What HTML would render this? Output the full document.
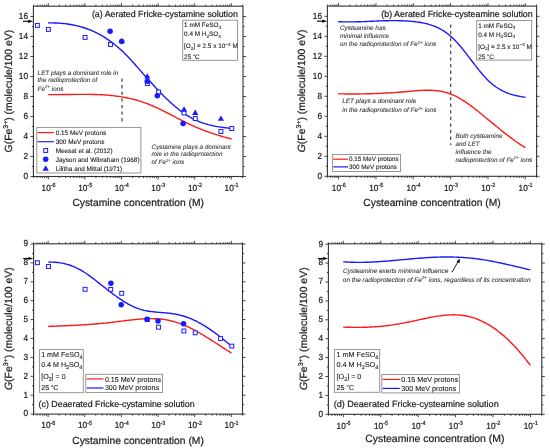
<!DOCTYPE html><html><head><meta charset="utf-8"><style>html,body{margin:0;padding:0;background:#fff;}svg{display:block;filter:blur(0.3px);}</style></head><body><svg xmlns="http://www.w3.org/2000/svg" width="550" height="448" viewBox="0 0 550 448" font-family='"Liberation Sans", sans-serif'>
<style>text{stroke:currentColor;stroke-width:0.2px;paint-order:stroke;text-rendering:geometricPrecision;} text.a{stroke-width:0.08px;} text.s{stroke-width:0.1px;}</style>
<rect width="550" height="448" fill="#fff"/>
<path d="M33.74,176.5v1.6M33.74,6.2v-1.6M37.28,176.5v1.6M37.28,6.2v-1.6M40.18,176.5v1.6M40.18,6.2v-1.6M42.63,176.5v1.6M42.63,6.2v-1.6M44.75,176.5v1.6M44.75,6.2v-1.6M46.63,176.5v1.6M46.63,6.2v-1.6M48.3,176.5v3M48.3,6.2v-3M59.32,176.5v1.6M59.32,6.2v-1.6M65.76,176.5v1.6M65.76,6.2v-1.6M70.34,176.5v1.6M70.34,6.2v-1.6M73.88,176.5v1.6M73.88,6.2v-1.6M76.78,176.5v1.6M76.78,6.2v-1.6M79.23,176.5v1.6M79.23,6.2v-1.6M81.35,176.5v1.6M81.35,6.2v-1.6M83.23,176.5v1.6M83.23,6.2v-1.6M84.9,176.5v3M84.9,6.2v-3M95.92,176.5v1.6M95.92,6.2v-1.6M102.36,176.5v1.6M102.36,6.2v-1.6M106.94,176.5v1.6M106.94,6.2v-1.6M110.48,176.5v1.6M110.48,6.2v-1.6M113.38,176.5v1.6M113.38,6.2v-1.6M115.83,176.5v1.6M115.83,6.2v-1.6M117.95,176.5v1.6M117.95,6.2v-1.6M119.83,176.5v1.6M119.83,6.2v-1.6M121.5,176.5v3M121.5,6.2v-3M132.52,176.5v1.6M132.52,6.2v-1.6M138.96,176.5v1.6M138.96,6.2v-1.6M143.54,176.5v1.6M143.54,6.2v-1.6M147.08,176.5v1.6M147.08,6.2v-1.6M149.98,176.5v1.6M149.98,6.2v-1.6M152.43,176.5v1.6M152.43,6.2v-1.6M154.55,176.5v1.6M154.55,6.2v-1.6M156.43,176.5v1.6M156.43,6.2v-1.6M158.1,176.5v3M158.1,6.2v-3M169.12,176.5v1.6M169.12,6.2v-1.6M175.56,176.5v1.6M175.56,6.2v-1.6M180.14,176.5v1.6M180.14,6.2v-1.6M183.68,176.5v1.6M183.68,6.2v-1.6M186.58,176.5v1.6M186.58,6.2v-1.6M189.03,176.5v1.6M189.03,6.2v-1.6M191.15,176.5v1.6M191.15,6.2v-1.6M193.03,176.5v1.6M193.03,6.2v-1.6M194.7,176.5v3M194.7,6.2v-3M205.72,176.5v1.6M205.72,6.2v-1.6M212.16,176.5v1.6M212.16,6.2v-1.6M216.74,176.5v1.6M216.74,6.2v-1.6M220.28,176.5v1.6M220.28,6.2v-1.6M223.18,176.5v1.6M223.18,6.2v-1.6M225.63,176.5v1.6M225.63,6.2v-1.6M227.75,176.5v1.6M227.75,6.2v-1.6M229.63,176.5v1.6M229.63,6.2v-1.6M231.3,176.5v3M231.3,6.2v-3M242.32,176.5v1.6M242.32,6.2v-1.6M33.4,176.5h-3M243,176.5h3M33.4,166.5h-1.6M243,166.5h1.6M33.4,156.5h-3M243,156.5h3M33.4,146.5h-1.6M243,146.5h1.6M33.4,136.5h-3M243,136.5h3M33.4,126.5h-1.6M243,126.5h1.6M33.4,116.5h-3M243,116.5h3M33.4,106.5h-1.6M243,106.5h1.6M33.4,96.5h-3M243,96.5h3M33.4,86.5h-1.6M243,86.5h1.6M33.4,76.5h-3M243,76.5h3M33.4,66.5h-1.6M243,66.5h1.6M33.4,56.5h-3M243,56.5h3M33.4,46.5h-1.6M243,46.5h1.6M33.4,36.5h-3M243,36.5h3M33.4,26.5h-1.6M243,26.5h1.6M33.4,16.5h-3M243,16.5h3" stroke="#333" stroke-width="0.9" fill="none"/>
<rect x="33.4" y="6.2" width="209.6" height="170.3" stroke="#333" stroke-width="1.1" fill="none"/>
<text transform="translate(28,178.8) scale(0.93,1)" font-size="8.9" text-anchor="end" fill="#1a1a1a" color="#1a1a1a">0</text>
<text transform="translate(28,158.8) scale(0.93,1)" font-size="8.9" text-anchor="end" fill="#1a1a1a" color="#1a1a1a">2</text>
<text transform="translate(28,138.8) scale(0.93,1)" font-size="8.9" text-anchor="end" fill="#1a1a1a" color="#1a1a1a">4</text>
<text transform="translate(28,118.8) scale(0.93,1)" font-size="8.9" text-anchor="end" fill="#1a1a1a" color="#1a1a1a">6</text>
<text transform="translate(28,98.8) scale(0.93,1)" font-size="8.9" text-anchor="end" fill="#1a1a1a" color="#1a1a1a">8</text>
<text transform="translate(28,78.8) scale(0.93,1)" font-size="8.9" text-anchor="end" fill="#1a1a1a" color="#1a1a1a">10</text>
<text transform="translate(28,58.8) scale(0.93,1)" font-size="8.9" text-anchor="end" fill="#1a1a1a" color="#1a1a1a">12</text>
<text transform="translate(28,38.8) scale(0.93,1)" font-size="8.9" text-anchor="end" fill="#1a1a1a" color="#1a1a1a">14</text>
<text transform="translate(28,18.8) scale(0.93,1)" font-size="8.9" text-anchor="end" fill="#1a1a1a" color="#1a1a1a">16</text>
<text transform="translate(48.6,190.7) scale(0.93,1)" font-size="8.9" text-anchor="middle" fill="#1a1a1a" color="#1a1a1a">10<tspan font-size="5.93" dy="-3.8">-6</tspan></text>
<text transform="translate(85.2,190.7) scale(0.93,1)" font-size="8.9" text-anchor="middle" fill="#1a1a1a" color="#1a1a1a">10<tspan font-size="5.93" dy="-3.8">-5</tspan></text>
<text transform="translate(121.8,190.7) scale(0.93,1)" font-size="8.9" text-anchor="middle" fill="#1a1a1a" color="#1a1a1a">10<tspan font-size="5.93" dy="-3.8">-4</tspan></text>
<text transform="translate(158.4,190.7) scale(0.93,1)" font-size="8.9" text-anchor="middle" fill="#1a1a1a" color="#1a1a1a">10<tspan font-size="5.93" dy="-3.8">-3</tspan></text>
<text transform="translate(195,190.7) scale(0.93,1)" font-size="8.9" text-anchor="middle" fill="#1a1a1a" color="#1a1a1a">10<tspan font-size="5.93" dy="-3.8">-2</tspan></text>
<text transform="translate(231.6,190.7) scale(0.93,1)" font-size="8.9" text-anchor="middle" fill="#1a1a1a" color="#1a1a1a">10<tspan font-size="5.93" dy="-3.8">-1</tspan></text>
<text x="138.2" y="205.7" font-size="10.3" text-anchor="middle" fill="#1a1a1a" color="#1a1a1a">Cystamine concentration (M)</text>
<text transform="translate(11.6,91.05) rotate(-90)" font-size="10.45" text-anchor="middle" fill="#1a1a1a" color="#1a1a1a">G(Fe<tspan font-size="6.90" dy="-4">3+</tspan><tspan dy="4">) (molecule/100 eV)</tspan></text>
<path d="M22.9,21.3H29.4" stroke="#000" stroke-width="1.1"/>
<path d="M28.2,19.7L33.1,21.3L28.2,22.9Z" fill="#000"/>
<path d="M327.36,176.3v1.6M327.36,6.1v-1.6M330.32,176.3v1.6M330.32,6.1v-1.6M332.82,176.3v1.6M332.82,6.1v-1.6M334.98,176.3v1.6M334.98,6.1v-1.6M336.89,176.3v1.6M336.89,6.1v-1.6M338.6,176.3v3M338.6,6.1v-3M349.84,176.3v1.6M349.84,6.1v-1.6M356.42,176.3v1.6M356.42,6.1v-1.6M361.08,176.3v1.6M361.08,6.1v-1.6M364.7,176.3v1.6M364.7,6.1v-1.6M367.66,176.3v1.6M367.66,6.1v-1.6M370.16,176.3v1.6M370.16,6.1v-1.6M372.32,176.3v1.6M372.32,6.1v-1.6M374.23,176.3v1.6M374.23,6.1v-1.6M375.94,176.3v3M375.94,6.1v-3M387.18,176.3v1.6M387.18,6.1v-1.6M393.76,176.3v1.6M393.76,6.1v-1.6M398.42,176.3v1.6M398.42,6.1v-1.6M402.04,176.3v1.6M402.04,6.1v-1.6M405,176.3v1.6M405,6.1v-1.6M407.5,176.3v1.6M407.5,6.1v-1.6M409.66,176.3v1.6M409.66,6.1v-1.6M411.57,176.3v1.6M411.57,6.1v-1.6M413.28,176.3v3M413.28,6.1v-3M424.52,176.3v1.6M424.52,6.1v-1.6M431.1,176.3v1.6M431.1,6.1v-1.6M435.76,176.3v1.6M435.76,6.1v-1.6M439.38,176.3v1.6M439.38,6.1v-1.6M442.34,176.3v1.6M442.34,6.1v-1.6M444.84,176.3v1.6M444.84,6.1v-1.6M447,176.3v1.6M447,6.1v-1.6M448.91,176.3v1.6M448.91,6.1v-1.6M450.62,176.3v3M450.62,6.1v-3M461.86,176.3v1.6M461.86,6.1v-1.6M468.44,176.3v1.6M468.44,6.1v-1.6M473.1,176.3v1.6M473.1,6.1v-1.6M476.72,176.3v1.6M476.72,6.1v-1.6M479.68,176.3v1.6M479.68,6.1v-1.6M482.18,176.3v1.6M482.18,6.1v-1.6M484.34,176.3v1.6M484.34,6.1v-1.6M486.25,176.3v1.6M486.25,6.1v-1.6M487.96,176.3v3M487.96,6.1v-3M499.2,176.3v1.6M499.2,6.1v-1.6M505.78,176.3v1.6M505.78,6.1v-1.6M510.44,176.3v1.6M510.44,6.1v-1.6M514.06,176.3v1.6M514.06,6.1v-1.6M517.02,176.3v1.6M517.02,6.1v-1.6M519.52,176.3v1.6M519.52,6.1v-1.6M521.68,176.3v1.6M521.68,6.1v-1.6M523.59,176.3v1.6M523.59,6.1v-1.6M525.3,176.3v3M525.3,6.1v-3M536.54,176.3v1.6M536.54,6.1v-1.6M327.4,176.3h-3M536.6,176.3h3M327.4,166.3h-1.6M536.6,166.3h1.6M327.4,156.3h-3M536.6,156.3h3M327.4,146.3h-1.6M536.6,146.3h1.6M327.4,136.3h-3M536.6,136.3h3M327.4,126.3h-1.6M536.6,126.3h1.6M327.4,116.3h-3M536.6,116.3h3M327.4,106.3h-1.6M536.6,106.3h1.6M327.4,96.3h-3M536.6,96.3h3M327.4,86.3h-1.6M536.6,86.3h1.6M327.4,76.3h-3M536.6,76.3h3M327.4,66.3h-1.6M536.6,66.3h1.6M327.4,56.3h-3M536.6,56.3h3M327.4,46.3h-1.6M536.6,46.3h1.6M327.4,36.3h-3M536.6,36.3h3M327.4,26.3h-1.6M536.6,26.3h1.6M327.4,16.3h-3M536.6,16.3h3" stroke="#333" stroke-width="0.9" fill="none"/>
<rect x="327.4" y="6.1" width="209.2" height="170.2" stroke="#333" stroke-width="1.1" fill="none"/>
<text transform="translate(322,178.6) scale(0.93,1)" font-size="8.9" text-anchor="end" fill="#1a1a1a" color="#1a1a1a">0</text>
<text transform="translate(322,158.6) scale(0.93,1)" font-size="8.9" text-anchor="end" fill="#1a1a1a" color="#1a1a1a">2</text>
<text transform="translate(322,138.6) scale(0.93,1)" font-size="8.9" text-anchor="end" fill="#1a1a1a" color="#1a1a1a">4</text>
<text transform="translate(322,118.6) scale(0.93,1)" font-size="8.9" text-anchor="end" fill="#1a1a1a" color="#1a1a1a">6</text>
<text transform="translate(322,98.6) scale(0.93,1)" font-size="8.9" text-anchor="end" fill="#1a1a1a" color="#1a1a1a">8</text>
<text transform="translate(322,78.6) scale(0.93,1)" font-size="8.9" text-anchor="end" fill="#1a1a1a" color="#1a1a1a">10</text>
<text transform="translate(322,58.6) scale(0.93,1)" font-size="8.9" text-anchor="end" fill="#1a1a1a" color="#1a1a1a">12</text>
<text transform="translate(322,38.6) scale(0.93,1)" font-size="8.9" text-anchor="end" fill="#1a1a1a" color="#1a1a1a">14</text>
<text transform="translate(322,18.6) scale(0.93,1)" font-size="8.9" text-anchor="end" fill="#1a1a1a" color="#1a1a1a">16</text>
<text transform="translate(338.9,190.5) scale(0.93,1)" font-size="8.9" text-anchor="middle" fill="#1a1a1a" color="#1a1a1a">10<tspan font-size="5.93" dy="-3.8">-6</tspan></text>
<text transform="translate(376.24,190.5) scale(0.93,1)" font-size="8.9" text-anchor="middle" fill="#1a1a1a" color="#1a1a1a">10<tspan font-size="5.93" dy="-3.8">-5</tspan></text>
<text transform="translate(413.58,190.5) scale(0.93,1)" font-size="8.9" text-anchor="middle" fill="#1a1a1a" color="#1a1a1a">10<tspan font-size="5.93" dy="-3.8">-4</tspan></text>
<text transform="translate(450.92,190.5) scale(0.93,1)" font-size="8.9" text-anchor="middle" fill="#1a1a1a" color="#1a1a1a">10<tspan font-size="5.93" dy="-3.8">-3</tspan></text>
<text transform="translate(488.26,190.5) scale(0.93,1)" font-size="8.9" text-anchor="middle" fill="#1a1a1a" color="#1a1a1a">10<tspan font-size="5.93" dy="-3.8">-2</tspan></text>
<text transform="translate(525.6,190.5) scale(0.93,1)" font-size="8.9" text-anchor="middle" fill="#1a1a1a" color="#1a1a1a">10<tspan font-size="5.93" dy="-3.8">-1</tspan></text>
<text x="432" y="205.7" font-size="10.3" text-anchor="middle" fill="#1a1a1a" color="#1a1a1a">Cysteamine concentration (M)</text>
<text transform="translate(305,90.9) rotate(-90)" font-size="10.45" text-anchor="middle" fill="#1a1a1a" color="#1a1a1a"><tspan font-style="italic">G</tspan>(Fe<tspan font-size="6.90" dy="-4">3+</tspan><tspan dy="4">) (molecule/100 eV)</tspan></text>
<path d="M316.9,21.2H323.4" stroke="#000" stroke-width="1.1"/>
<path d="M322.2,19.6L327.1,21.2L322.2,22.8Z" fill="#000"/>
<path d="M33.52,414.1v1.6M33.52,243.8v-1.6M37.07,414.1v1.6M37.07,243.8v-1.6M39.97,414.1v1.6M39.97,243.8v-1.6M42.42,414.1v1.6M42.42,243.8v-1.6M44.55,414.1v1.6M44.55,243.8v-1.6M46.42,414.1v1.6M46.42,243.8v-1.6M48.1,414.1v3M48.1,243.8v-3M59.13,414.1v1.6M59.13,243.8v-1.6M65.59,414.1v1.6M65.59,243.8v-1.6M70.17,414.1v1.6M70.17,243.8v-1.6M73.72,414.1v1.6M73.72,243.8v-1.6M76.62,414.1v1.6M76.62,243.8v-1.6M79.07,414.1v1.6M79.07,243.8v-1.6M81.2,414.1v1.6M81.2,243.8v-1.6M83.07,414.1v1.6M83.07,243.8v-1.6M84.75,414.1v3M84.75,243.8v-3M95.78,414.1v1.6M95.78,243.8v-1.6M102.24,414.1v1.6M102.24,243.8v-1.6M106.82,414.1v1.6M106.82,243.8v-1.6M110.37,414.1v1.6M110.37,243.8v-1.6M113.27,414.1v1.6M113.27,243.8v-1.6M115.72,414.1v1.6M115.72,243.8v-1.6M117.85,414.1v1.6M117.85,243.8v-1.6M119.72,414.1v1.6M119.72,243.8v-1.6M121.4,414.1v3M121.4,243.8v-3M132.43,414.1v1.6M132.43,243.8v-1.6M138.89,414.1v1.6M138.89,243.8v-1.6M143.47,414.1v1.6M143.47,243.8v-1.6M147.02,414.1v1.6M147.02,243.8v-1.6M149.92,414.1v1.6M149.92,243.8v-1.6M152.37,414.1v1.6M152.37,243.8v-1.6M154.5,414.1v1.6M154.5,243.8v-1.6M156.37,414.1v1.6M156.37,243.8v-1.6M158.05,414.1v3M158.05,243.8v-3M169.08,414.1v1.6M169.08,243.8v-1.6M175.54,414.1v1.6M175.54,243.8v-1.6M180.12,414.1v1.6M180.12,243.8v-1.6M183.67,414.1v1.6M183.67,243.8v-1.6M186.57,414.1v1.6M186.57,243.8v-1.6M189.02,414.1v1.6M189.02,243.8v-1.6M191.15,414.1v1.6M191.15,243.8v-1.6M193.02,414.1v1.6M193.02,243.8v-1.6M194.7,414.1v3M194.7,243.8v-3M205.73,414.1v1.6M205.73,243.8v-1.6M212.19,414.1v1.6M212.19,243.8v-1.6M216.77,414.1v1.6M216.77,243.8v-1.6M220.32,414.1v1.6M220.32,243.8v-1.6M223.22,414.1v1.6M223.22,243.8v-1.6M225.67,414.1v1.6M225.67,243.8v-1.6M227.8,414.1v1.6M227.8,243.8v-1.6M229.67,414.1v1.6M229.67,243.8v-1.6M231.35,414.1v3M231.35,243.8v-3M242.38,414.1v1.6M242.38,243.8v-1.6M33.6,414.1h-3M242.5,414.1h3M33.6,404.65h-1.6M242.5,404.65h1.6M33.6,395.2h-3M242.5,395.2h3M33.6,385.75h-1.6M242.5,385.75h1.6M33.6,376.3h-3M242.5,376.3h3M33.6,366.85h-1.6M242.5,366.85h1.6M33.6,357.4h-3M242.5,357.4h3M33.6,347.95h-1.6M242.5,347.95h1.6M33.6,338.5h-3M242.5,338.5h3M33.6,329.05h-1.6M242.5,329.05h1.6M33.6,319.6h-3M242.5,319.6h3M33.6,310.15h-1.6M242.5,310.15h1.6M33.6,300.7h-3M242.5,300.7h3M33.6,291.25h-1.6M242.5,291.25h1.6M33.6,281.8h-3M242.5,281.8h3M33.6,272.35h-1.6M242.5,272.35h1.6M33.6,262.9h-3M242.5,262.9h3M33.6,253.45h-1.6M242.5,253.45h1.6M33.6,244h-3M242.5,244h3" stroke="#333" stroke-width="0.9" fill="none"/>
<rect x="33.6" y="243.8" width="208.9" height="170.3" stroke="#333" stroke-width="1.1" fill="none"/>
<text transform="translate(28.2,416.4) scale(0.93,1)" font-size="8.9" text-anchor="end" fill="#1a1a1a" color="#1a1a1a">0</text>
<text transform="translate(28.2,397.5) scale(0.93,1)" font-size="8.9" text-anchor="end" fill="#1a1a1a" color="#1a1a1a">1</text>
<text transform="translate(28.2,378.6) scale(0.93,1)" font-size="8.9" text-anchor="end" fill="#1a1a1a" color="#1a1a1a">2</text>
<text transform="translate(28.2,359.7) scale(0.93,1)" font-size="8.9" text-anchor="end" fill="#1a1a1a" color="#1a1a1a">3</text>
<text transform="translate(28.2,340.8) scale(0.93,1)" font-size="8.9" text-anchor="end" fill="#1a1a1a" color="#1a1a1a">4</text>
<text transform="translate(28.2,321.9) scale(0.93,1)" font-size="8.9" text-anchor="end" fill="#1a1a1a" color="#1a1a1a">5</text>
<text transform="translate(28.2,303) scale(0.93,1)" font-size="8.9" text-anchor="end" fill="#1a1a1a" color="#1a1a1a">6</text>
<text transform="translate(28.2,284.1) scale(0.93,1)" font-size="8.9" text-anchor="end" fill="#1a1a1a" color="#1a1a1a">7</text>
<text transform="translate(28.2,265.2) scale(0.93,1)" font-size="8.9" text-anchor="end" fill="#1a1a1a" color="#1a1a1a">8</text>
<text transform="translate(28.2,246.3) scale(0.93,1)" font-size="8.9" text-anchor="end" fill="#1a1a1a" color="#1a1a1a">9</text>
<text transform="translate(48.4,428.3) scale(0.93,1)" font-size="8.9" text-anchor="middle" fill="#1a1a1a" color="#1a1a1a">10<tspan font-size="5.93" dy="-3.8">-6</tspan></text>
<text transform="translate(85.05,428.3) scale(0.93,1)" font-size="8.9" text-anchor="middle" fill="#1a1a1a" color="#1a1a1a">10<tspan font-size="5.93" dy="-3.8">-5</tspan></text>
<text transform="translate(121.7,428.3) scale(0.93,1)" font-size="8.9" text-anchor="middle" fill="#1a1a1a" color="#1a1a1a">10<tspan font-size="5.93" dy="-3.8">-4</tspan></text>
<text transform="translate(158.35,428.3) scale(0.93,1)" font-size="8.9" text-anchor="middle" fill="#1a1a1a" color="#1a1a1a">10<tspan font-size="5.93" dy="-3.8">-3</tspan></text>
<text transform="translate(195,428.3) scale(0.93,1)" font-size="8.9" text-anchor="middle" fill="#1a1a1a" color="#1a1a1a">10<tspan font-size="5.93" dy="-3.8">-2</tspan></text>
<text transform="translate(231.65,428.3) scale(0.93,1)" font-size="8.9" text-anchor="middle" fill="#1a1a1a" color="#1a1a1a">10<tspan font-size="5.93" dy="-3.8">-1</tspan></text>
<text x="138.05" y="443.5" font-size="10.3" text-anchor="middle" fill="#1a1a1a" color="#1a1a1a">Cystamine concentration (M)</text>
<text transform="translate(11.6,328.65) rotate(-90)" font-size="10.45" text-anchor="middle" fill="#1a1a1a" color="#1a1a1a"><tspan font-style="italic">G</tspan>(Fe<tspan font-size="6.90" dy="-4">3+</tspan><tspan dy="4">) (molecule/100 eV)</tspan></text>
<path d="M23.1,258.5H29.6" stroke="#000" stroke-width="1.1"/>
<path d="M28.4,256.9L33.3,258.5L28.4,260.1Z" fill="#000"/>
<path d="M328.41,414.3v1.6M328.41,243.8v-1.6M332.03,414.3v1.6M332.03,243.8v-1.6M335,414.3v1.6M335,243.8v-1.6M337.5,414.3v1.6M337.5,243.8v-1.6M339.67,414.3v1.6M339.67,243.8v-1.6M341.59,414.3v1.6M341.59,243.8v-1.6M343.3,414.3v3M343.3,243.8v-3M354.57,414.3v1.6M354.57,243.8v-1.6M361.16,414.3v1.6M361.16,243.8v-1.6M365.84,414.3v1.6M365.84,243.8v-1.6M369.46,414.3v1.6M369.46,243.8v-1.6M372.43,414.3v1.6M372.43,243.8v-1.6M374.93,414.3v1.6M374.93,243.8v-1.6M377.1,414.3v1.6M377.1,243.8v-1.6M379.02,414.3v1.6M379.02,243.8v-1.6M380.73,414.3v3M380.73,243.8v-3M392,414.3v1.6M392,243.8v-1.6M398.59,414.3v1.6M398.59,243.8v-1.6M403.27,414.3v1.6M403.27,243.8v-1.6M406.89,414.3v1.6M406.89,243.8v-1.6M409.86,414.3v1.6M409.86,243.8v-1.6M412.36,414.3v1.6M412.36,243.8v-1.6M414.53,414.3v1.6M414.53,243.8v-1.6M416.45,414.3v1.6M416.45,243.8v-1.6M418.16,414.3v3M418.16,243.8v-3M429.43,414.3v1.6M429.43,243.8v-1.6M436.02,414.3v1.6M436.02,243.8v-1.6M440.7,414.3v1.6M440.7,243.8v-1.6M444.32,414.3v1.6M444.32,243.8v-1.6M447.29,414.3v1.6M447.29,243.8v-1.6M449.79,414.3v1.6M449.79,243.8v-1.6M451.96,414.3v1.6M451.96,243.8v-1.6M453.88,414.3v1.6M453.88,243.8v-1.6M455.59,414.3v3M455.59,243.8v-3M466.86,414.3v1.6M466.86,243.8v-1.6M473.45,414.3v1.6M473.45,243.8v-1.6M478.13,414.3v1.6M478.13,243.8v-1.6M481.75,414.3v1.6M481.75,243.8v-1.6M484.72,414.3v1.6M484.72,243.8v-1.6M487.22,414.3v1.6M487.22,243.8v-1.6M489.39,414.3v1.6M489.39,243.8v-1.6M491.31,414.3v1.6M491.31,243.8v-1.6M493.02,414.3v3M493.02,243.8v-3M504.29,414.3v1.6M504.29,243.8v-1.6M510.88,414.3v1.6M510.88,243.8v-1.6M515.56,414.3v1.6M515.56,243.8v-1.6M519.18,414.3v1.6M519.18,243.8v-1.6M522.15,414.3v1.6M522.15,243.8v-1.6M524.65,414.3v1.6M524.65,243.8v-1.6M526.82,414.3v1.6M526.82,243.8v-1.6M528.74,414.3v1.6M528.74,243.8v-1.6M530.45,414.3v3M530.45,243.8v-3M541.72,414.3v1.6M541.72,243.8v-1.6M328.4,414.3h-3M541.8,414.3h3M328.4,404.85h-1.6M541.8,404.85h1.6M328.4,395.4h-3M541.8,395.4h3M328.4,385.95h-1.6M541.8,385.95h1.6M328.4,376.5h-3M541.8,376.5h3M328.4,367.05h-1.6M541.8,367.05h1.6M328.4,357.6h-3M541.8,357.6h3M328.4,348.15h-1.6M541.8,348.15h1.6M328.4,338.7h-3M541.8,338.7h3M328.4,329.25h-1.6M541.8,329.25h1.6M328.4,319.8h-3M541.8,319.8h3M328.4,310.35h-1.6M541.8,310.35h1.6M328.4,300.9h-3M541.8,300.9h3M328.4,291.45h-1.6M541.8,291.45h1.6M328.4,282h-3M541.8,282h3M328.4,272.55h-1.6M541.8,272.55h1.6M328.4,263.1h-3M541.8,263.1h3M328.4,253.65h-1.6M541.8,253.65h1.6M328.4,244.2h-3M541.8,244.2h3" stroke="#333" stroke-width="0.9" fill="none"/>
<rect x="328.4" y="243.8" width="213.4" height="170.5" stroke="#333" stroke-width="1.1" fill="none"/>
<text transform="translate(323,416.6) scale(0.93,1)" font-size="8.9" text-anchor="end" fill="#1a1a1a" color="#1a1a1a">0</text>
<text transform="translate(323,397.7) scale(0.93,1)" font-size="8.9" text-anchor="end" fill="#1a1a1a" color="#1a1a1a">1</text>
<text transform="translate(323,378.8) scale(0.93,1)" font-size="8.9" text-anchor="end" fill="#1a1a1a" color="#1a1a1a">2</text>
<text transform="translate(323,359.9) scale(0.93,1)" font-size="8.9" text-anchor="end" fill="#1a1a1a" color="#1a1a1a">3</text>
<text transform="translate(323,341) scale(0.93,1)" font-size="8.9" text-anchor="end" fill="#1a1a1a" color="#1a1a1a">4</text>
<text transform="translate(323,322.1) scale(0.93,1)" font-size="8.9" text-anchor="end" fill="#1a1a1a" color="#1a1a1a">5</text>
<text transform="translate(323,303.2) scale(0.93,1)" font-size="8.9" text-anchor="end" fill="#1a1a1a" color="#1a1a1a">6</text>
<text transform="translate(323,284.3) scale(0.93,1)" font-size="8.9" text-anchor="end" fill="#1a1a1a" color="#1a1a1a">7</text>
<text transform="translate(323,265.4) scale(0.93,1)" font-size="8.9" text-anchor="end" fill="#1a1a1a" color="#1a1a1a">8</text>
<text transform="translate(323,246.5) scale(0.93,1)" font-size="8.9" text-anchor="end" fill="#1a1a1a" color="#1a1a1a">9</text>
<text transform="translate(343.6,428.5) scale(0.93,1)" font-size="8.9" text-anchor="middle" fill="#1a1a1a" color="#1a1a1a">10<tspan font-size="5.93" dy="-3.8">-6</tspan></text>
<text transform="translate(381.03,428.5) scale(0.93,1)" font-size="8.9" text-anchor="middle" fill="#1a1a1a" color="#1a1a1a">10<tspan font-size="5.93" dy="-3.8">-5</tspan></text>
<text transform="translate(418.46,428.5) scale(0.93,1)" font-size="8.9" text-anchor="middle" fill="#1a1a1a" color="#1a1a1a">10<tspan font-size="5.93" dy="-3.8">-4</tspan></text>
<text transform="translate(455.89,428.5) scale(0.93,1)" font-size="8.9" text-anchor="middle" fill="#1a1a1a" color="#1a1a1a">10<tspan font-size="5.93" dy="-3.8">-3</tspan></text>
<text transform="translate(493.32,428.5) scale(0.93,1)" font-size="8.9" text-anchor="middle" fill="#1a1a1a" color="#1a1a1a">10<tspan font-size="5.93" dy="-3.8">-2</tspan></text>
<text transform="translate(530.75,428.5) scale(0.93,1)" font-size="8.9" text-anchor="middle" fill="#1a1a1a" color="#1a1a1a">10<tspan font-size="5.93" dy="-3.8">-1</tspan></text>
<text x="434.8" y="442.3" font-size="10.45" text-anchor="middle" fill="#1a1a1a" color="#1a1a1a">Cysteamine concentration (M)</text>
<text transform="translate(306.6,328.75) rotate(-90)" font-size="10.45" text-anchor="middle" fill="#1a1a1a" color="#1a1a1a"><tspan font-style="italic">G</tspan>(Fe<tspan font-size="6.90" dy="-4">3+</tspan><tspan dy="4">) (molecule/100 eV)</tspan></text>
<path d="M317.9,258.5H324.4" stroke="#000" stroke-width="1.1"/>
<path d="M323.2,256.9L328.1,258.5L323.2,260.1Z" fill="#000"/>
<path d="M122,78.5V121.5" stroke="#4a4a4a" stroke-width="1.25" stroke-dasharray="3.3,3.3"/>
<path d="M48.2,94.58 L49.7,94.6 L51.2,94.61 L52.7,94.62 L54.2,94.62 L55.7,94.62 L57.2,94.61 L58.7,94.6 L60.2,94.59 L61.7,94.57 L63.2,94.55 L64.7,94.53 L66.2,94.51 L67.7,94.49 L69.2,94.47 L70.7,94.45 L72.2,94.43 L73.7,94.41 L75.2,94.39 L76.7,94.38 L78.2,94.36 L79.7,94.35 L81.2,94.34 L82.7,94.34 L84.2,94.34 L85.7,94.34 L87.2,94.35 L88.7,94.37 L90.2,94.39 L91.7,94.41 L93.2,94.45 L94.7,94.48 L96.2,94.53 L97.7,94.59 L99.2,94.65 L100.7,94.72 L102.2,94.81 L103.7,94.9 L105.2,95 L106.7,95.11 L108.2,95.23 L109.7,95.37 L111.2,95.51 L112.7,95.67 L114.2,95.84 L115.7,96.03 L117.2,96.22 L118.7,96.43 L120.2,96.66 L121.7,96.9 L123.2,97.16 L124.7,97.43 L126.2,97.72 L127.7,98.02 L129.2,98.34 L130.7,98.68 L132.2,99.04 L133.7,99.41 L135.2,99.8 L136.7,100.22 L138.2,100.65 L139.7,101.1 L141.2,101.57 L142.7,102.07 L144.2,102.58 L145.7,103.12 L147.2,103.68 L148.7,104.26 L150.2,104.86 L151.7,105.49 L153.2,106.13 L154.7,106.79 L156.2,107.47 L157.7,108.17 L159.2,108.88 L160.7,109.6 L162.2,110.33 L163.7,111.08 L165.2,111.83 L166.7,112.59 L168.2,113.36 L169.7,114.13 L171.2,114.91 L172.7,115.69 L174.2,116.47 L175.7,117.25 L177.2,118.03 L178.7,118.8 L180.2,119.58 L181.7,120.34 L183.2,121.1 L184.7,121.85 L186.2,122.6 L187.7,123.33 L189.2,124.05 L190.7,124.76 L192.2,125.45 L193.7,126.13 L195.2,126.79 L196.7,127.44 L198.2,128.07 L199.7,128.69 L201.2,129.3 L202.7,129.89 L204.2,130.47 L205.7,131.03 L207.2,131.59 L208.7,132.13 L210.2,132.66 L211.7,133.17 L213.2,133.68 L214.7,134.17 L216.2,134.66 L217.7,135.13 L219.2,135.59 L220.7,136.04 L222.2,136.48 L223.7,136.91 L225.2,137.33 L226.7,137.74 L228.2,138.15 L229.7,138.54 L231.2,138.93 L231.6,139.03" stroke="#ff1a1a" stroke-width="1.4" fill="none" stroke-linejoin="round"/>
<path d="M48,22.91 L49.5,22.9 L51,22.9 L52.5,22.92 L54,22.95 L55.5,23 L57,23.06 L58.5,23.14 L60,23.24 L61.5,23.36 L63,23.49 L64.5,23.64 L66,23.82 L67.5,24.01 L69,24.23 L70.5,24.47 L72,24.73 L73.5,25.01 L75,25.32 L76.5,25.65 L78,26.01 L79.5,26.4 L81,26.81 L82.5,27.25 L84,27.72 L85.5,28.22 L87,28.74 L88.5,29.3 L90,29.89 L91.5,30.51 L93,31.16 L94.5,31.84 L96,32.56 L97.5,33.31 L99,34.1 L100.5,34.93 L102,35.79 L103.5,36.68 L105,37.62 L106.5,38.59 L108,39.59 L109.5,40.64 L111,41.72 L112.5,42.84 L114,44 L115.5,45.2 L117,46.43 L118.5,47.71 L120,49.02 L121.5,50.38 L123,51.78 L124.5,53.22 L126,54.71 L127.5,56.25 L129,57.83 L130.5,59.45 L132,61.1 L133.5,62.78 L135,64.47 L136.5,66.17 L138,67.88 L139.5,69.59 L141,71.3 L142.5,73 L144,74.7 L145.5,76.39 L147,78.08 L148.5,79.75 L150,81.42 L151.5,83.07 L153,84.72 L154.5,86.34 L156,87.95 L157.5,89.55 L159,91.12 L160.5,92.68 L162,94.21 L163.5,95.72 L165,97.21 L166.5,98.67 L168,100.1 L169.5,101.51 L171,102.88 L172.5,104.23 L174,105.54 L175.5,106.82 L177,108.07 L178.5,109.27 L180,110.44 L181.5,111.57 L183,112.66 L184.5,113.71 L186,114.71 L187.5,115.67 L189,116.58 L190.5,117.45 L192,118.27 L193.5,119.04 L195,119.78 L196.5,120.47 L198,121.12 L199.5,121.73 L201,122.31 L202.5,122.85 L204,123.36 L205.5,123.83 L207,124.27 L208.5,124.69 L210,125.07 L211.5,125.43 L213,125.77 L214.5,126.07 L216,126.36 L217.5,126.63 L219,126.87 L220.5,127.1 L222,127.31 L223.5,127.51 L225,127.7 L226.5,127.87 L228,128.03 L229.5,128.18 L231,128.32 L231.8,128.39" stroke="#1a1aff" stroke-width="1.4" fill="none" stroke-linejoin="round"/>
<rect x="35.45" y="23.45" width="3.9" height="3.9" stroke="#1a1aff" stroke-width="1" fill="#fff"/>
<rect x="46.45" y="27.45" width="3.9" height="3.9" stroke="#1a1aff" stroke-width="1" fill="#fff"/>
<rect x="83.15" y="35.45" width="3.9" height="3.9" stroke="#1a1aff" stroke-width="1" fill="#fff"/>
<rect x="108.55" y="42.55" width="3.9" height="3.9" stroke="#1a1aff" stroke-width="1" fill="#fff"/>
<rect x="145.35" y="81.65" width="3.9" height="3.9" stroke="#1a1aff" stroke-width="1" fill="#fff"/>
<rect x="156.65" y="90.05" width="3.9" height="3.9" stroke="#1a1aff" stroke-width="1" fill="#fff"/>
<rect x="182.05" y="111.05" width="3.9" height="3.9" stroke="#1a1aff" stroke-width="1" fill="#fff"/>
<rect x="193.35" y="116.65" width="3.9" height="3.9" stroke="#1a1aff" stroke-width="1" fill="#fff"/>
<rect x="218.95" y="129.55" width="3.9" height="3.9" stroke="#1a1aff" stroke-width="1" fill="#fff"/>
<rect x="229.85" y="126.55" width="3.9" height="3.9" stroke="#1a1aff" stroke-width="1" fill="#fff"/>
<circle cx="110.1" cy="31.2" r="2.75" fill="#1a1aff"/>
<circle cx="121.7" cy="41.6" r="2.75" fill="#1a1aff"/>
<circle cx="147.3" cy="81.3" r="2.75" fill="#1a1aff"/>
<circle cx="157.3" cy="95.7" r="2.75" fill="#1a1aff"/>
<circle cx="183.1" cy="123.4" r="2.75" fill="#1a1aff"/>
<path d="M121.7,37.77L124.8,43.1L118.6,43.1Z" fill="#1a1aff"/>
<path d="M147.3,73.27L150.4,78.6L144.2,78.6Z" fill="#1a1aff"/>
<path d="M184,106.17L187.1,111.5L180.9,111.5Z" fill="#1a1aff"/>
<path d="M195.2,109.57L198.3,114.9L192.1,114.9Z" fill="#1a1aff"/>
<path d="M220.9,115.47L224,120.8L217.8,120.8Z" fill="#1a1aff"/>
<text x="91.9" y="17.1" font-size="8.86" text-anchor="start" fill="#1a1a1a" color="#1a1a1a">(a) Aerated Fricke-cystamine solution</text>
<rect x="182.7" y="20.2" width="54.9" height="40.1" stroke="#8a8a8a" stroke-width="0.9" fill="#fff"/>
<text x="184.1" y="27.3" font-size="6.4" text-anchor="start" fill="#1a1a1a" color="#1a1a1a" class="s">1 mM FeSO<tspan font-size="4.74" dy="1.73">4</tspan></text>
<text x="184.1" y="36.4" font-size="6.4" text-anchor="start" fill="#1a1a1a" color="#1a1a1a" class="s">0.4 M H<tspan font-size="4.74" dy="1.73">2</tspan><tspan dy="-1.73">SO</tspan><tspan font-size="4.74" dy="1.73">4</tspan></text>
<text x="184.1" y="48.3" font-size="6.4" text-anchor="start" fill="#1a1a1a" color="#1a1a1a" class="s">[O<tspan font-size="4.74" dy="1.73">2</tspan><tspan dy="-1.73">] = 2.5 x 10</tspan><tspan font-size="4.74" dy="-2.69">&#8722;4</tspan><tspan dy="2.69"> M</tspan></text>
<text x="184.1" y="58.6" font-size="6.4" text-anchor="start" fill="#1a1a1a" color="#1a1a1a" class="s">25 <tspan font-size="5.12" dy="-1">°</tspan><tspan dy="1">C</tspan></text>
<text x="37.6" y="74.6" font-size="6.37" text-anchor="start" fill="#333" color="#333" font-style="italic" class="a">LET plays a dominant role in</text>
<text x="37.6" y="82.3" font-size="6.37" text-anchor="start" fill="#333" color="#333" font-style="italic" class="a">the radioprotection of</text>
<text x="37.6" y="90.5" font-size="6.37" text-anchor="start" fill="#333" color="#333" font-style="italic" class="a">Fe<tspan font-size="4.33" dy="-2.5">2+</tspan><tspan dy="2.5"> ions</tspan></text>
<text x="151.6" y="148.5" font-size="6.3" text-anchor="start" fill="#333" color="#333" font-style="italic" class="a">Cystamine plays a dominant</text>
<text x="151.4" y="156.3" font-size="6.3" text-anchor="start" fill="#333" color="#333" font-style="italic" class="a">role in the radioprotection</text>
<text x="151.6" y="164.2" font-size="6.3" text-anchor="start" fill="#333" color="#333" font-style="italic" class="a">of Fe<tspan font-size="4.28" dy="-2.5">2+</tspan><tspan dy="2.5"> ions</tspan></text>
<rect x="36.8" y="127.4" width="104.1" height="45.6" stroke="#8a8a8a" stroke-width="0.9" fill="#fff"/>
<path d="M37.5,132.6H53.9" stroke="#ff1a1a" stroke-width="1.15"/>
<path d="M37.5,141.7H53.9" stroke="#1a1aff" stroke-width="1.15"/>
<rect x="43.75" y="148.55" width="3.9" height="3.9" stroke="#1a1aff" stroke-width="1" fill="#fff"/>
<circle cx="45.7" cy="159.3" r="2.75" fill="#1a1aff"/>
<path d="M45.7,165.37L48.8,170.7L42.6,170.7Z" fill="#1a1aff"/>
<text x="55.7" y="134.8" font-size="6.4" text-anchor="start" fill="#1a1a1a" color="#1a1a1a" class="s">0.15 MeV protons</text>
<text x="55.7" y="143.8" font-size="6.4" text-anchor="start" fill="#1a1a1a" color="#1a1a1a" class="s">300 MeV protons</text>
<text x="55.7" y="152.8" font-size="6.4" text-anchor="start" fill="#1a1a1a" color="#1a1a1a" class="s">Meesat et al. (2012)</text>
<text x="55.7" y="161.8" font-size="6.4" text-anchor="start" fill="#1a1a1a" color="#1a1a1a" class="s">Jayson and Wibraham (1968)</text>
<text x="55.7" y="170.8" font-size="6.4" text-anchor="start" fill="#1a1a1a" color="#1a1a1a" class="s">Lilitha and Mittal (1971)</text>
<path d="M450.7,24.4V145" stroke="#4a4a4a" stroke-width="1.25" stroke-dasharray="3.3,3.3"/>
<path d="M338.2,93.82 L339.7,93.85 L341.2,93.87 L342.7,93.89 L344.2,93.91 L345.7,93.93 L347.2,93.94 L348.7,93.95 L350.2,93.96 L351.7,93.96 L353.2,93.96 L354.7,93.96 L356.2,93.95 L357.7,93.94 L359.2,93.93 L360.7,93.91 L362.2,93.89 L363.7,93.87 L365.2,93.84 L366.7,93.81 L368.2,93.77 L369.7,93.74 L371.2,93.69 L372.7,93.65 L374.2,93.6 L375.7,93.55 L377.2,93.49 L378.7,93.43 L380.2,93.37 L381.7,93.3 L383.2,93.23 L384.7,93.15 L386.2,93.07 L387.7,92.99 L389.2,92.9 L390.7,92.81 L392.2,92.72 L393.7,92.62 L395.2,92.52 L396.7,92.41 L398.2,92.3 L399.7,92.19 L401.2,92.07 L402.7,91.94 L404.2,91.82 L405.7,91.69 L407.2,91.55 L408.7,91.41 L410.2,91.27 L411.7,91.13 L413.2,91 L414.7,90.87 L416.2,90.74 L417.7,90.63 L419.2,90.52 L420.7,90.43 L422.2,90.35 L423.7,90.28 L425.2,90.24 L426.7,90.21 L428.2,90.21 L429.7,90.23 L431.2,90.27 L432.7,90.34 L434.2,90.44 L435.7,90.58 L437.2,90.74 L438.7,90.94 L440.2,91.18 L441.7,91.45 L443.2,91.77 L444.7,92.13 L446.2,92.53 L447.7,92.98 L449.2,93.47 L450.7,94.02 L452.2,94.62 L453.7,95.27 L455.2,95.97 L456.7,96.72 L458.2,97.52 L459.7,98.36 L461.2,99.24 L462.7,100.16 L464.2,101.12 L465.7,102.12 L467.2,103.14 L468.7,104.2 L470.2,105.29 L471.7,106.4 L473.2,107.53 L474.7,108.69 L476.2,109.86 L477.7,111.05 L479.2,112.26 L480.7,113.48 L482.2,114.7 L483.7,115.94 L485.2,117.18 L486.7,118.42 L488.2,119.67 L489.7,120.91 L491.2,122.15 L492.7,123.39 L494.2,124.63 L495.7,125.86 L497.2,127.08 L498.7,128.3 L500.2,129.51 L501.7,130.72 L503.2,131.91 L504.7,133.09 L506.2,134.26 L507.7,135.41 L509.2,136.55 L510.7,137.68 L512.2,138.79 L513.7,139.88 L515.2,140.96 L516.7,142.01 L518.2,143.04 L519.7,144.06 L521.2,145.05 L522.7,146.01 L524.2,146.95 L525.4,147.69" stroke="#ff1a1a" stroke-width="1.4" fill="none" stroke-linejoin="round"/>
<path d="M338.2,21.66 L339.7,21.73 L341.2,21.79 L342.7,21.83 L344.2,21.86 L345.7,21.89 L347.2,21.9 L348.7,21.9 L350.2,21.9 L351.7,21.89 L353.2,21.87 L354.7,21.84 L356.2,21.81 L357.7,21.77 L359.2,21.73 L360.7,21.68 L362.2,21.63 L363.7,21.58 L365.2,21.52 L366.7,21.46 L368.2,21.4 L369.7,21.33 L371.2,21.27 L372.7,21.21 L374.2,21.15 L375.7,21.08 L377.2,21.02 L378.7,20.97 L380.2,20.91 L381.7,20.86 L383.2,20.81 L384.7,20.77 L386.2,20.73 L387.7,20.7 L389.2,20.67 L390.7,20.65 L392.2,20.64 L393.7,20.63 L395.2,20.64 L396.7,20.65 L398.2,20.67 L399.7,20.7 L401.2,20.75 L402.7,20.8 L404.2,20.87 L405.7,20.94 L407.2,21.03 L408.7,21.14 L410.2,21.26 L411.7,21.39 L413.2,21.54 L414.7,21.7 L416.2,21.88 L417.7,22.08 L419.2,22.29 L420.7,22.53 L422.2,22.8 L423.7,23.09 L425.2,23.41 L426.7,23.76 L428.2,24.16 L429.7,24.59 L431.2,25.06 L432.7,25.58 L434.2,26.14 L435.7,26.75 L437.2,27.42 L438.7,28.14 L440.2,28.92 L441.7,29.76 L443.2,30.67 L444.7,31.64 L446.2,32.68 L447.7,33.79 L449.2,34.98 L450.7,36.24 L452.2,37.59 L453.7,39.01 L455.2,40.53 L456.7,42.12 L458.2,43.79 L459.7,45.52 L461.2,47.3 L462.7,49.14 L464.2,51.02 L465.7,52.93 L467.2,54.87 L468.7,56.83 L470.2,58.8 L471.7,60.77 L473.2,62.74 L474.7,64.69 L476.2,66.63 L477.7,68.54 L479.2,70.41 L480.7,72.24 L482.2,74.02 L483.7,75.74 L485.2,77.4 L486.7,78.98 L488.2,80.48 L489.7,81.89 L491.2,83.22 L492.7,84.47 L494.2,85.64 L495.7,86.73 L497.2,87.75 L498.7,88.7 L500.2,89.59 L501.7,90.4 L503.2,91.16 L504.7,91.86 L506.2,92.51 L507.7,93.11 L509.2,93.65 L510.7,94.15 L512.2,94.61 L513.7,95.02 L515.2,95.4 L516.7,95.75 L518.2,96.06 L519.7,96.35 L521.2,96.61 L522.7,96.85 L524.2,97.07 L525.5,97.25" stroke="#1a1aff" stroke-width="1.4" fill="none" stroke-linejoin="round"/>
<text x="381.3" y="16.9" font-size="8.88" text-anchor="start" fill="#1a1a1a" color="#1a1a1a">(b) Aerated Fricke-cysteamine solution</text>
<rect x="476.7" y="20.6" width="55" height="39.5" stroke="#8a8a8a" stroke-width="0.9" fill="#fff"/>
<text x="478.2" y="27.6" font-size="6.4" text-anchor="start" fill="#1a1a1a" color="#1a1a1a" class="s">1 mM FeSO<tspan font-size="4.74" dy="1.73">4</tspan></text>
<text x="478.2" y="36.7" font-size="6.4" text-anchor="start" fill="#1a1a1a" color="#1a1a1a" class="s">0.4 M H<tspan font-size="4.74" dy="1.73">2</tspan><tspan dy="-1.73">SO</tspan><tspan font-size="4.74" dy="1.73">4</tspan></text>
<text x="478.2" y="48.5" font-size="6.4" text-anchor="start" fill="#1a1a1a" color="#1a1a1a" class="s">[O<tspan font-size="4.74" dy="1.73">2</tspan><tspan dy="-1.73">] = 2.5 x 10</tspan><tspan font-size="4.74" dy="-2.69">&#8722;4</tspan><tspan dy="2.69"> M</tspan></text>
<text x="478.2" y="58.5" font-size="6.4" text-anchor="start" fill="#1a1a1a" color="#1a1a1a" class="s">25 <tspan font-size="5.12" dy="-1">°</tspan><tspan dy="1">C</tspan></text>
<text x="340" y="29.6" font-size="6.37" text-anchor="start" fill="#333" color="#333" font-style="italic" class="a">Cysteamine has</text>
<text x="340" y="37.8" font-size="6.37" text-anchor="start" fill="#333" color="#333" font-style="italic" class="a">minimal influence</text>
<text x="340" y="46.2" font-size="6.37" text-anchor="start" fill="#333" color="#333" font-style="italic" class="a">on the radioprotection of Fe<tspan font-size="4.33" dy="-2.5">2+</tspan><tspan dy="2.5"> ions</tspan></text>
<text x="342.3" y="102.6" font-size="6.37" text-anchor="start" fill="#333" color="#333" font-style="italic" class="a">LET plays a dominant role</text>
<text x="342.3" y="112" font-size="6.37" text-anchor="start" fill="#333" color="#333" font-style="italic" class="a">in the radioprotection of Fe<tspan font-size="4.33" dy="-2.5">2+</tspan><tspan dy="2.5"> ions</tspan></text>
<text x="455.5" y="138.2" font-size="6.37" text-anchor="start" fill="#333" color="#333" font-style="italic" class="a">Both cysteamine</text>
<text x="455.5" y="146" font-size="6.37" text-anchor="start" fill="#333" color="#333" font-style="italic" class="a">and LET</text>
<text x="455.5" y="153.8" font-size="6.37" text-anchor="start" fill="#333" color="#333" font-style="italic" class="a">influence the</text>
<text x="455.5" y="161.8" font-size="6.37" text-anchor="start" fill="#333" color="#333" font-style="italic" class="a">radioprotection of Fe<tspan font-size="4.33" dy="-2.5">2+</tspan><tspan dy="2.5"> ions</tspan></text>
<rect x="332.6" y="154.5" width="68" height="17" stroke="#8a8a8a" stroke-width="0.9" fill="#fff"/>
<path d="M333.2,159.2H348" stroke="#ff1a1a" stroke-width="1.2"/>
<path d="M333.2,166.9H348" stroke="#1a1aff" stroke-width="1.2"/>
<text x="349" y="161.3" font-size="6.3" text-anchor="start" fill="#1a1a1a" color="#1a1a1a" class="s">0.15 MeV protons</text>
<text x="349" y="169.3" font-size="6.3" text-anchor="start" fill="#1a1a1a" color="#1a1a1a" class="s">300 MeV protons</text>
<path d="M48.1,326.43 L49.6,326.37 L51.1,326.3 L52.6,326.24 L54.1,326.18 L55.6,326.12 L57.1,326.06 L58.6,326 L60.1,325.94 L61.6,325.88 L63.1,325.82 L64.6,325.76 L66.1,325.69 L67.6,325.63 L69.1,325.56 L70.6,325.49 L72.1,325.43 L73.6,325.35 L75.1,325.28 L76.6,325.21 L78.1,325.13 L79.6,325.05 L81.1,324.96 L82.6,324.88 L84.1,324.79 L85.6,324.69 L87.1,324.6 L88.6,324.5 L90.1,324.39 L91.6,324.28 L93.1,324.17 L94.6,324.05 L96.1,323.93 L97.6,323.8 L99.1,323.67 L100.6,323.54 L102.1,323.39 L103.6,323.24 L105.1,323.09 L106.6,322.93 L108.1,322.76 L109.6,322.59 L111.1,322.42 L112.6,322.23 L114.1,322.05 L115.6,321.87 L117.1,321.68 L118.6,321.49 L120.1,321.3 L121.6,321.11 L123.1,320.92 L124.6,320.74 L126.1,320.56 L127.6,320.38 L129.1,320.2 L130.6,320.03 L132.1,319.87 L133.6,319.71 L135.1,319.56 L136.6,319.41 L138.1,319.28 L139.6,319.16 L141.1,319.04 L142.6,318.94 L144.1,318.85 L145.6,318.77 L147.1,318.71 L148.6,318.67 L150.1,318.64 L151.6,318.64 L153.1,318.65 L154.6,318.69 L156.1,318.75 L157.6,318.83 L159.1,318.94 L160.6,319.07 L162.1,319.23 L163.6,319.43 L165.1,319.65 L166.6,319.9 L168.1,320.19 L169.6,320.5 L171.1,320.85 L172.6,321.23 L174.1,321.64 L175.6,322.08 L177.1,322.56 L178.6,323.06 L180.1,323.59 L181.6,324.16 L183.1,324.76 L184.6,325.38 L186.1,326.03 L187.6,326.71 L189.1,327.42 L190.6,328.15 L192.1,328.91 L193.6,329.68 L195.1,330.48 L196.6,331.3 L198.1,332.14 L199.6,332.99 L201.1,333.86 L202.6,334.75 L204.1,335.65 L205.6,336.56 L207.1,337.49 L208.6,338.43 L210.1,339.37 L211.6,340.32 L213.1,341.28 L214.6,342.25 L216.1,343.22 L217.6,344.19 L219.1,345.16 L220.6,346.13 L222.1,347.1 L223.6,348.07 L225.1,349.04 L226.6,350 L228.1,350.95 L229.6,351.9 L231.1,352.84 L231.5,353.09" stroke="#ff1a1a" stroke-width="1.4" fill="none" stroke-linejoin="round"/>
<path d="M48.3,262.08 L49.8,262.07 L51.3,262.08 L52.8,262.13 L54.3,262.2 L55.8,262.32 L57.3,262.46 L58.8,262.65 L60.3,262.87 L61.8,263.12 L63.3,263.42 L64.8,263.76 L66.3,264.13 L67.8,264.55 L69.3,265.02 L70.8,265.53 L72.3,266.08 L73.8,266.68 L75.3,267.33 L76.8,268.03 L78.3,268.77 L79.8,269.57 L81.3,270.42 L82.8,271.32 L84.3,272.27 L85.8,273.25 L87.3,274.27 L88.8,275.33 L90.3,276.41 L91.8,277.53 L93.3,278.66 L94.8,279.81 L96.3,280.98 L97.8,282.15 L99.3,283.34 L100.8,284.52 L102.3,285.71 L103.8,286.89 L105.3,288.07 L106.8,289.25 L108.3,290.41 L109.8,291.56 L111.3,292.7 L112.8,293.83 L114.3,294.94 L115.8,296.03 L117.3,297.1 L118.8,298.14 L120.3,299.16 L121.8,300.16 L123.3,301.12 L124.8,302.05 L126.3,302.95 L127.8,303.81 L129.3,304.63 L130.8,305.42 L132.3,306.16 L133.8,306.86 L135.3,307.51 L136.8,308.11 L138.3,308.66 L139.8,309.16 L141.3,309.61 L142.8,310.01 L144.3,310.37 L145.8,310.69 L147.3,310.97 L148.8,311.22 L150.3,311.44 L151.8,311.64 L153.3,311.81 L154.8,311.96 L156.3,312.1 L157.8,312.23 L159.3,312.35 L160.8,312.47 L162.3,312.59 L163.8,312.7 L165.3,312.83 L166.8,312.97 L168.3,313.12 L169.8,313.28 L171.3,313.47 L172.8,313.69 L174.3,313.93 L175.8,314.2 L177.3,314.5 L178.8,314.84 L180.3,315.2 L181.8,315.6 L183.3,316.03 L184.8,316.5 L186.3,317 L187.8,317.53 L189.3,318.1 L190.8,318.71 L192.3,319.35 L193.8,320.03 L195.3,320.74 L196.8,321.49 L198.3,322.27 L199.8,323.09 L201.3,323.93 L202.8,324.81 L204.3,325.72 L205.8,326.65 L207.3,327.61 L208.8,328.6 L210.3,329.62 L211.8,330.66 L213.3,331.72 L214.8,332.81 L216.3,333.92 L217.8,335.05 L219.3,336.2 L220.8,337.37 L222.3,338.56 L223.8,339.76 L225.3,340.98 L226.8,342.22 L228.3,343.47 L229.8,344.73 L231.3,346 L231.8,346.43" stroke="#1a1aff" stroke-width="1.4" fill="none" stroke-linejoin="round"/>
<rect x="35.45" y="260.75" width="3.9" height="3.9" stroke="#1a1aff" stroke-width="1" fill="#fff"/>
<rect x="46.55" y="264.55" width="3.9" height="3.9" stroke="#1a1aff" stroke-width="1" fill="#fff"/>
<rect x="83.15" y="287.35" width="3.9" height="3.9" stroke="#1a1aff" stroke-width="1" fill="#fff"/>
<rect x="108.75" y="287.45" width="3.9" height="3.9" stroke="#1a1aff" stroke-width="1" fill="#fff"/>
<rect x="119.75" y="291.35" width="3.9" height="3.9" stroke="#1a1aff" stroke-width="1" fill="#fff"/>
<rect x="145.35" y="317.65" width="3.9" height="3.9" stroke="#1a1aff" stroke-width="1" fill="#fff"/>
<rect x="156.55" y="325.25" width="3.9" height="3.9" stroke="#1a1aff" stroke-width="1" fill="#fff"/>
<rect x="181.95" y="329.05" width="3.9" height="3.9" stroke="#1a1aff" stroke-width="1" fill="#fff"/>
<rect x="193.25" y="330.85" width="3.9" height="3.9" stroke="#1a1aff" stroke-width="1" fill="#fff"/>
<rect x="218.65" y="336.65" width="3.9" height="3.9" stroke="#1a1aff" stroke-width="1" fill="#fff"/>
<rect x="229.85" y="344.15" width="3.9" height="3.9" stroke="#1a1aff" stroke-width="1" fill="#fff"/>
<circle cx="110.9" cy="283.3" r="2.75" fill="#1a1aff"/>
<circle cx="121.2" cy="304.7" r="2.75" fill="#1a1aff"/>
<circle cx="147" cy="319.3" r="2.75" fill="#1a1aff"/>
<circle cx="158" cy="321" r="2.75" fill="#1a1aff"/>
<circle cx="183.6" cy="323.7" r="2.75" fill="#1a1aff"/>
<rect x="39.6" y="349.6" width="43.7" height="43.1" stroke="#8a8a8a" stroke-width="0.9" fill="#fff"/>
<text x="41.2" y="356.6" font-size="7.1" text-anchor="start" fill="#1a1a1a" color="#1a1a1a" class="s">1 mM FeSO<tspan font-size="5.25" dy="1.92">4</tspan></text>
<text x="41.2" y="367.1" font-size="7.1" text-anchor="start" fill="#1a1a1a" color="#1a1a1a" class="s">0.4 M H<tspan font-size="5.25" dy="1.92">2</tspan><tspan dy="-1.92">SO</tspan><tspan font-size="5.25" dy="1.92">4</tspan></text>
<text x="41.2" y="378.9" font-size="7.1" text-anchor="start" fill="#1a1a1a" color="#1a1a1a" class="s">[O<tspan font-size="5.25" dy="1.92">2</tspan><tspan dy="-1.92">] = 0</tspan></text>
<text x="41.2" y="390.2" font-size="7.1" text-anchor="start" fill="#1a1a1a" color="#1a1a1a" class="s">25 <tspan font-size="5.68" dy="-1">°</tspan><tspan dy="1">C</tspan></text>
<rect x="85.8" y="374.3" width="76.8" height="18.3" stroke="#8a8a8a" stroke-width="0.9" fill="#fff"/>
<path d="M86.7,378.9H103.5" stroke="#ff1a1a" stroke-width="1.2"/>
<path d="M86.7,388H103.5" stroke="#1a1aff" stroke-width="1.2"/>
<text x="104.9" y="381.5" font-size="7.12" text-anchor="start" fill="#1a1a1a" color="#1a1a1a" class="s">0.15 MeV protons</text>
<text x="104.9" y="390.3" font-size="7.12" text-anchor="start" fill="#1a1a1a" color="#1a1a1a" class="s">300 MeV protons</text>
<text x="38.6" y="406.8" font-size="8.83" text-anchor="start" fill="#1a1a1a" color="#1a1a1a">(c) Deaerated Fricke-cystamine solution</text>
<path d="M343.1,327.1 L344.6,327.15 L346.1,327.2 L347.6,327.24 L349.1,327.28 L350.6,327.31 L352.1,327.33 L353.6,327.35 L355.1,327.36 L356.6,327.37 L358.1,327.37 L359.6,327.36 L361.1,327.34 L362.6,327.32 L364.1,327.29 L365.6,327.25 L367.1,327.2 L368.6,327.14 L370.1,327.07 L371.6,327 L373.1,326.91 L374.6,326.82 L376.1,326.72 L377.6,326.61 L379.1,326.48 L380.6,326.35 L382.1,326.2 L383.6,326.05 L385.1,325.88 L386.6,325.71 L388.1,325.52 L389.6,325.32 L391.1,325.11 L392.6,324.9 L394.1,324.67 L395.6,324.43 L397.1,324.19 L398.6,323.94 L400.1,323.67 L401.6,323.41 L403.1,323.13 L404.6,322.84 L406.1,322.55 L407.6,322.25 L409.1,321.95 L410.6,321.64 L412.1,321.32 L413.6,321 L415.1,320.67 L416.6,320.34 L418.1,320.01 L419.6,319.68 L421.1,319.35 L422.6,319.02 L424.1,318.7 L425.6,318.38 L427.1,318.06 L428.6,317.76 L430.1,317.46 L431.6,317.17 L433.1,316.89 L434.6,316.63 L436.1,316.38 L437.6,316.14 L439.1,315.92 L440.6,315.71 L442.1,315.52 L443.6,315.35 L445.1,315.21 L446.6,315.08 L448.1,314.98 L449.6,314.9 L451.1,314.84 L452.6,314.82 L454.1,314.82 L455.6,314.85 L457.1,314.91 L458.6,315 L460.1,315.12 L461.6,315.28 L463.1,315.47 L464.6,315.7 L466.1,315.97 L467.6,316.27 L469.1,316.62 L470.6,317 L472.1,317.42 L473.6,317.89 L475.1,318.39 L476.6,318.93 L478.1,319.52 L479.6,320.14 L481.1,320.8 L482.6,321.51 L484.1,322.25 L485.6,323.03 L487.1,323.86 L488.6,324.72 L490.1,325.63 L491.6,326.58 L493.1,327.56 L494.6,328.59 L496.1,329.66 L497.6,330.77 L499.1,331.93 L500.6,333.12 L502.1,334.35 L503.6,335.63 L505.1,336.95 L506.6,338.31 L508.1,339.71 L509.6,341.15 L511.1,342.64 L512.6,344.17 L514.1,345.74 L515.6,347.35 L517.1,349 L518.6,350.7 L520.1,352.44 L521.6,354.22 L523.1,356.04 L524.6,357.91 L526.1,359.82 L527.6,361.78 L529.1,363.77 L530.3,365.4" stroke="#ff1a1a" stroke-width="1.4" fill="none" stroke-linejoin="round"/>
<path d="M343.3,261.79 L344.8,261.9 L346.3,262 L347.8,262.08 L349.3,262.16 L350.8,262.22 L352.3,262.27 L353.8,262.31 L355.3,262.34 L356.8,262.36 L358.3,262.37 L359.8,262.37 L361.3,262.36 L362.8,262.34 L364.3,262.31 L365.8,262.28 L367.3,262.23 L368.8,262.18 L370.3,262.12 L371.8,262.05 L373.3,261.98 L374.8,261.9 L376.3,261.82 L377.8,261.73 L379.3,261.63 L380.8,261.53 L382.3,261.42 L383.8,261.31 L385.3,261.2 L386.8,261.08 L388.3,260.96 L389.8,260.83 L391.3,260.7 L392.8,260.57 L394.3,260.44 L395.8,260.31 L397.3,260.17 L398.8,260.03 L400.3,259.9 L401.8,259.76 L403.3,259.62 L404.8,259.48 L406.3,259.34 L407.8,259.21 L409.3,259.07 L410.8,258.94 L412.3,258.8 L413.8,258.67 L415.3,258.55 L416.8,258.42 L418.3,258.3 L419.8,258.18 L421.3,258.06 L422.8,257.95 L424.3,257.84 L425.8,257.74 L427.3,257.65 L428.8,257.55 L430.3,257.47 L431.8,257.39 L433.3,257.31 L434.8,257.25 L436.3,257.19 L437.8,257.13 L439.3,257.09 L440.8,257.05 L442.3,257.02 L443.8,257 L445.3,256.99 L446.8,256.98 L448.3,256.99 L449.8,257 L451.3,257.02 L452.8,257.05 L454.3,257.09 L455.8,257.14 L457.3,257.19 L458.8,257.26 L460.3,257.34 L461.8,257.42 L463.3,257.52 L464.8,257.62 L466.3,257.73 L467.8,257.86 L469.3,257.99 L470.8,258.14 L472.3,258.29 L473.8,258.46 L475.3,258.64 L476.8,258.82 L478.3,259.02 L479.8,259.23 L481.3,259.45 L482.8,259.68 L484.3,259.91 L485.8,260.16 L487.3,260.42 L488.8,260.68 L490.3,260.96 L491.8,261.24 L493.3,261.53 L494.8,261.82 L496.3,262.12 L497.8,262.43 L499.3,262.75 L500.8,263.06 L502.3,263.39 L503.8,263.72 L505.3,264.05 L506.8,264.39 L508.3,264.73 L509.8,265.07 L511.3,265.42 L512.8,265.77 L514.3,266.12 L515.8,266.47 L517.3,266.83 L518.8,267.18 L520.3,267.54 L521.8,267.89 L523.3,268.25 L524.8,268.6 L526.3,268.96 L527.8,269.31 L529.3,269.66 L530.4,269.91" stroke="#1a1aff" stroke-width="1.4" fill="none" stroke-linejoin="round"/>
<path d="M452,272.2L458.4,261" stroke="#000" stroke-width="0.9"/>
<path d="M459.7,258.6L459.6,263.2L456.6,261.5Z" fill="#000"/>
<text x="343" y="272.5" font-size="6.47" text-anchor="start" fill="#333" color="#333" font-style="italic" class="a">Cysteamine exerts minimal influence</text>
<text x="342.8" y="281.5" font-size="6.47" text-anchor="start" fill="#333" color="#333" font-style="italic" class="a">on the radioprotection of Fe<tspan font-size="4.40" dy="-2.5">2+</tspan><tspan dy="2.5"> ions, regardless of its concentration</tspan></text>
<rect x="334.4" y="349.6" width="45.3" height="42.7" stroke="#8a8a8a" stroke-width="0.9" fill="#fff"/>
<text x="336.6" y="356.6" font-size="7.2" text-anchor="start" fill="#1a1a1a" color="#1a1a1a" class="s">1 mM FeSO<tspan font-size="5.33" dy="1.94">4</tspan></text>
<text x="336.6" y="367.1" font-size="7.2" text-anchor="start" fill="#1a1a1a" color="#1a1a1a" class="s">0.4 M H<tspan font-size="5.33" dy="1.94">2</tspan><tspan dy="-1.94">SO</tspan><tspan font-size="5.33" dy="1.94">4</tspan></text>
<text x="336.6" y="378.9" font-size="7.2" text-anchor="start" fill="#1a1a1a" color="#1a1a1a" class="s">[O<tspan font-size="5.33" dy="1.94">2</tspan><tspan dy="-1.94">] = 0</tspan></text>
<text x="336.6" y="390.2" font-size="7.2" text-anchor="start" fill="#1a1a1a" color="#1a1a1a" class="s">25 <tspan font-size="5.76" dy="-1">°</tspan><tspan dy="1">C</tspan></text>
<rect x="381.8" y="374.6" width="77.6" height="18.3" stroke="#8a8a8a" stroke-width="0.9" fill="#fff"/>
<path d="M382.6,379.4H399.8" stroke="#ff1a1a" stroke-width="1.2"/>
<path d="M382.6,388.4H399.8" stroke="#1a1aff" stroke-width="1.2"/>
<text x="401.3" y="381.9" font-size="7.2" text-anchor="start" fill="#1a1a1a" color="#1a1a1a" class="s">0.15 MeV protons</text>
<text x="401.3" y="390.6" font-size="7.2" text-anchor="start" fill="#1a1a1a" color="#1a1a1a" class="s">300 MeV protons</text>
<text x="333.8" y="406.8" font-size="9.03" text-anchor="start" fill="#1a1a1a" color="#1a1a1a">(d) Deaerated Fricke-cysteamine solution</text>
</svg></body></html>
